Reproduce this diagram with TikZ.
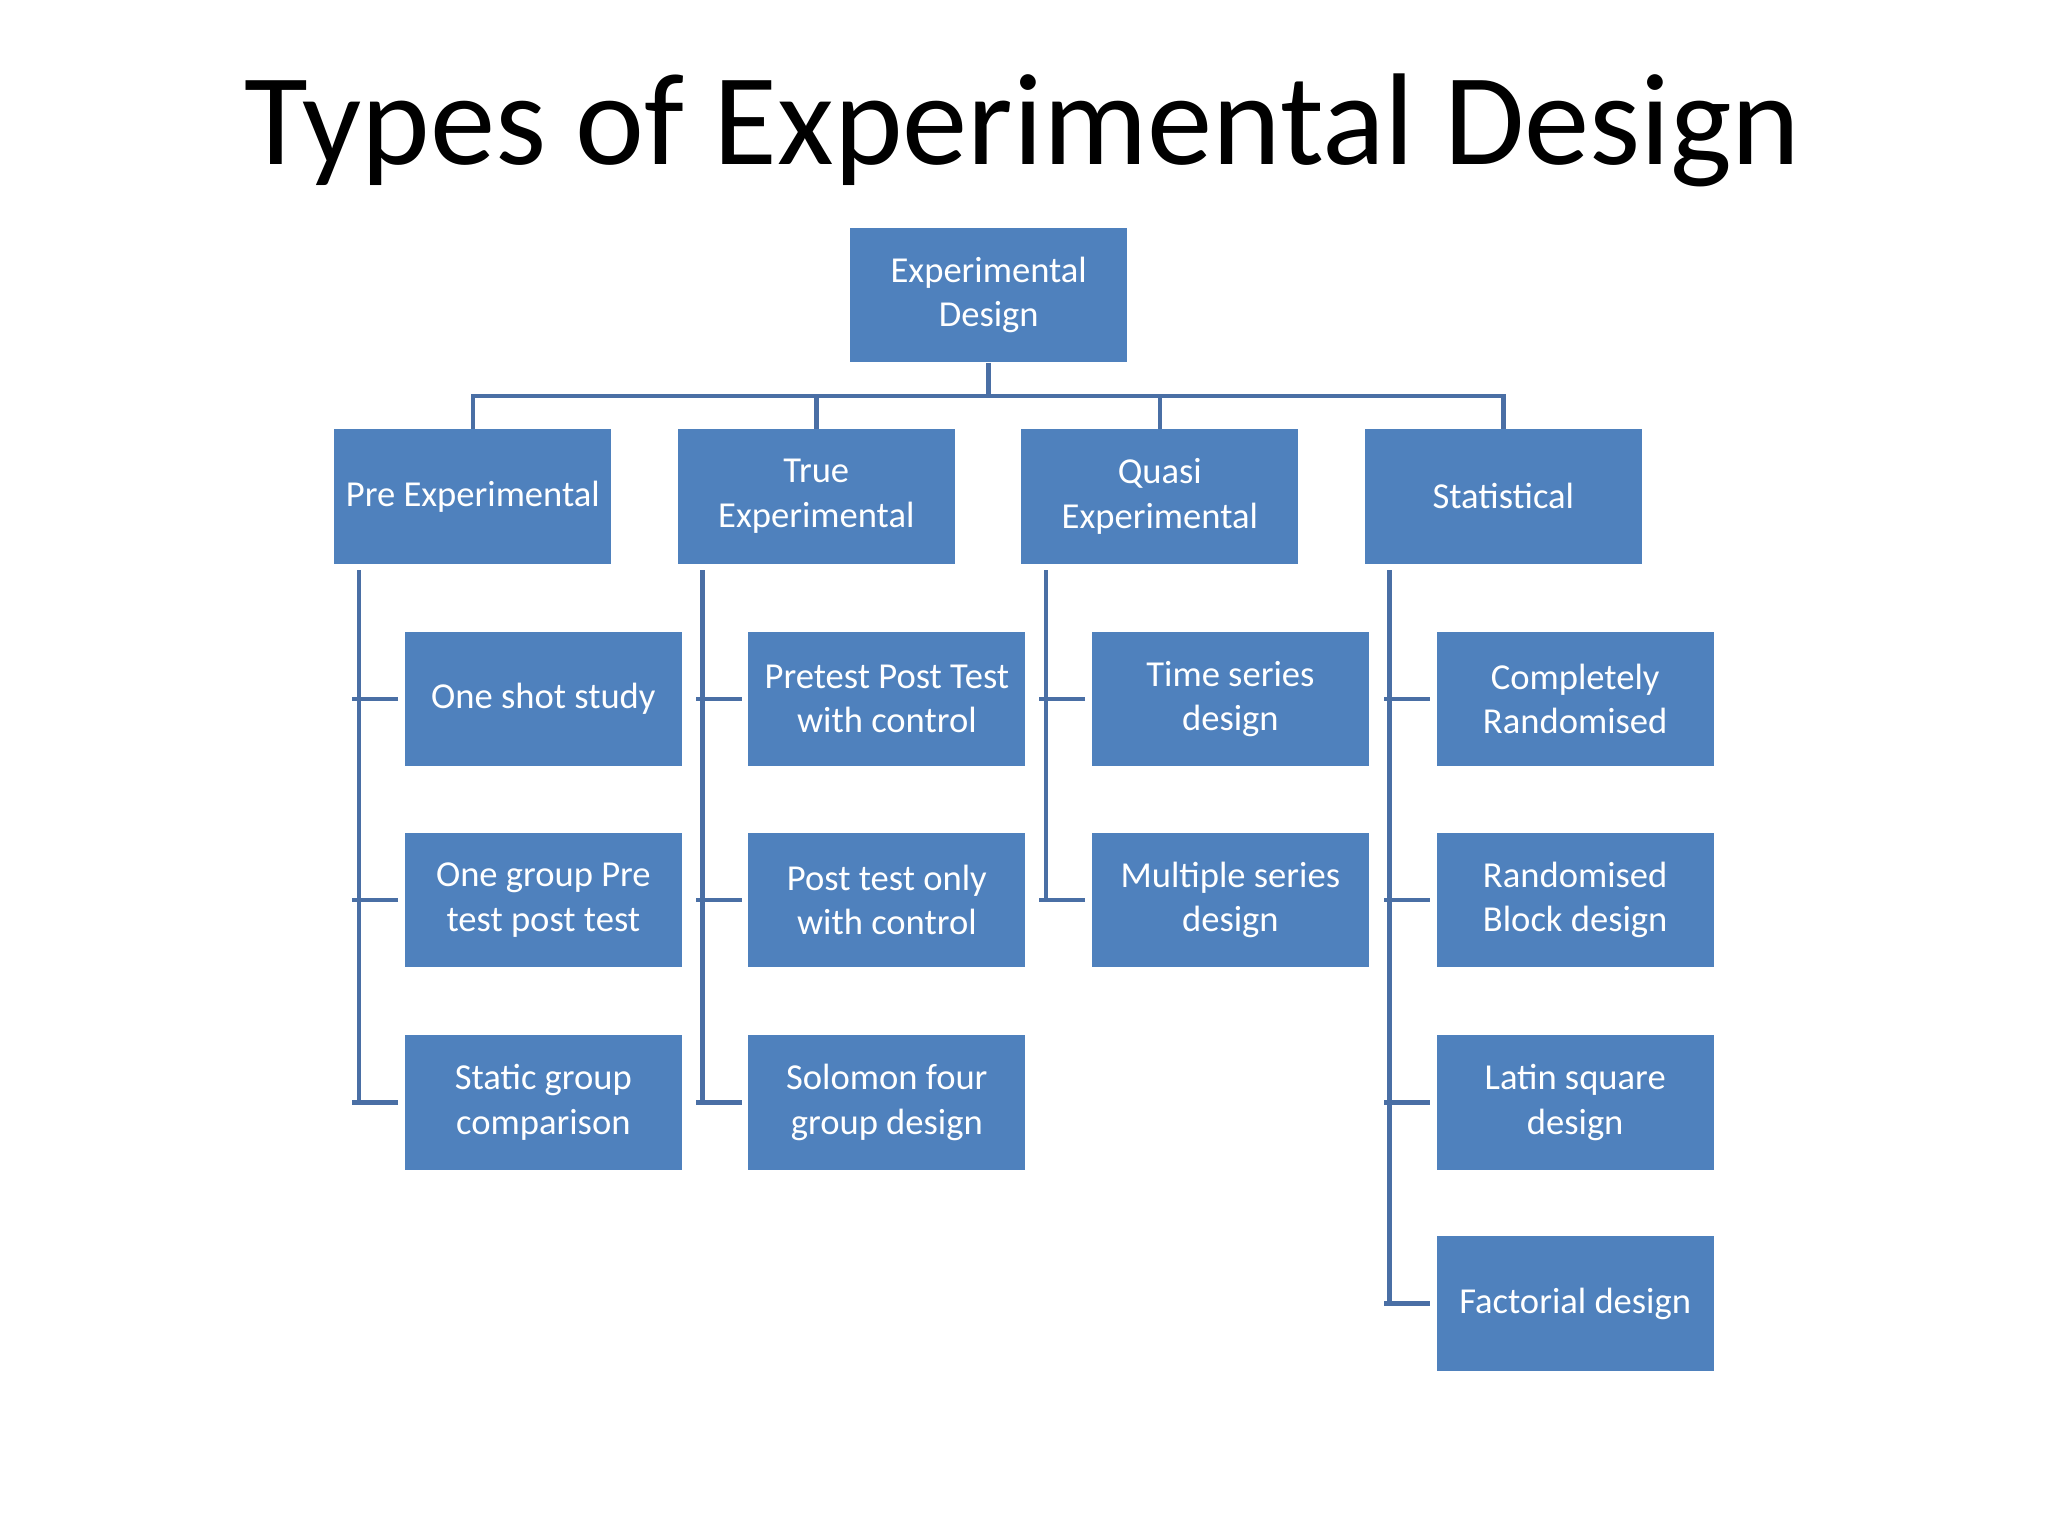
\documentclass[tikz,border=0pt]{standalone}
\usepackage{fontspec}
\setmainfont{Carlito}
\definecolor{boxblue}{HTML}{4F81BD}
\definecolor{lineblue}{HTML}{4A6FA5}
\begin{document}
\begin{tikzpicture}[x=1pt,y=-1pt,
  bx/.style={fill=boxblue,draw=none,minimum width=212pt,minimum height=103pt,inner sep=2pt,
    text=white,align=center,font=\fontsize{28}{34}\selectfont},
  ln/.style={draw=lineblue,line width=3.5pt}]
\useasboundingbox (0,0) rectangle (1568,1176);
\node[font=\fontsize{100}{110}\selectfont] (title) at (783,100) {Types of Experimental Design};
\node[bx] (top) at (757,226) {Experimental\\Design};
\node[bx] (a) at (362,380) {Pre Experimental};
\node[bx] (b) at (625,380) {True\\Experimental};
\node[bx] (c) at (888,380) {Quasi\\Experimental};
\node[bx] (d) at (1151,380) {Statistical};
\node[bx] (a1) at (416,535) {One shot study};
\node[bx] (a2) at (416,689) {One group Pre\\test post test};
\node[bx] (a3) at (416,844) {Static group\\comparison};
\node[bx] (b1) at (679,535) {Pretest Post Test\\with control};
\node[bx] (b2) at (679,689) {Post test only\\with control};
\node[bx] (b3) at (679,844) {Solomon four\\group design};
\node[bx] (c1) at (942,535) {Time series\\design};
\node[bx] (c2) at (942,689) {Multiple series\\design};
\node[bx] (d1) at (1206,535) {Completely\\Randomised};
\node[bx] (d2) at (1206,689) {Randomised\\Block design};
\node[bx] (d3) at (1206,844) {Latin square\\design};
\node[bx] (d4) at (1206,998) {Factorial design};
\draw[ln] (top.south) -- ++(0,25) coordinate (bus);
\draw[ln] (a.north) -- ++(0,-25) -| (d.north);
\draw[ln] (b.north) -- ++(0,-25);
\draw[ln] (c.north) -- ++(0,-25);
\foreach \p/\last/\kids in {a/a3/{a1,a2,a3},b/b3/{b1,b2,b3},c/c2/{c1,c2},d/d4/{d1,d2,d3,d4}}{
  \draw[ln] ([xshift=19pt,yshift=-5pt]\p.south west) |- ([xshift=-5pt]\last.west);
  \foreach \k in \kids {\draw[ln] ([xshift=-5pt]\k.west) -- ++(-35,0);}
}
\end{tikzpicture}
\end{document}
